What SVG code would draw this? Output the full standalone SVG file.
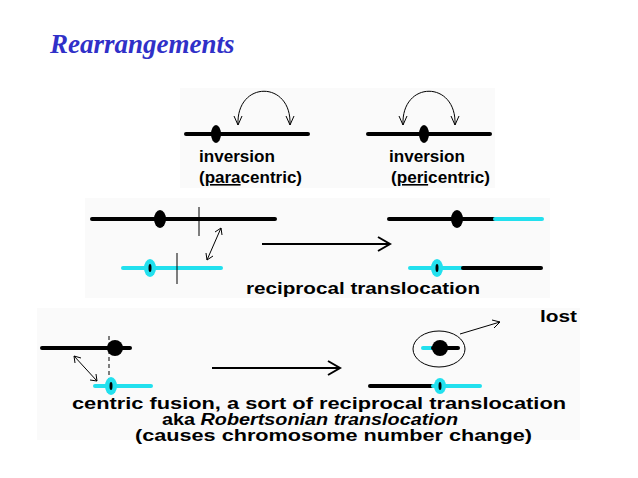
<svg xmlns="http://www.w3.org/2000/svg" width="638" height="478" viewBox="0 0 638 478">
<style>
.t{font-family:"Liberation Sans",Arial,sans-serif;font-weight:bold;font-size:16px;fill:#000}
.k{stroke:#000;stroke-width:4;stroke-linecap:round;fill:none}
.c{stroke:#22e0ee;stroke-width:4;stroke-linecap:round;fill:none}
.thin{stroke:#000;stroke-width:1;fill:none}
.big{stroke:#000;stroke-width:2;fill:none}
</style>
<rect width="638" height="478" fill="#fff"/>
<text x="50" y="53" font-family="Liberation Serif,serif" font-style="italic" font-weight="bold" font-size="27" fill="#3030c8">Rearrangements</text>
<g id="panel1">
<rect x="180" y="88" width="315" height="100" fill="#fafafa"/>
<line class="k" x1="186" y1="134" x2="308" y2="134"/>
<ellipse cx="216" cy="134" rx="5" ry="9"/>
<path class="thin" d="M238,125 C236,80 292,80 290,125 M234,116 L238,125 L242,116 M286,116 L290,125 L294,116"/>
<text class="t" x="199" y="162" textLength="76" lengthAdjust="spacingAndGlyphs">inversion</text>
<text class="t" x="199" y="183" textLength="103" lengthAdjust="spacingAndGlyphs">(<tspan text-decoration="underline">para</tspan>centric)</text>
<line class="k" x1="368" y1="134" x2="490" y2="134"/>
<ellipse cx="424" cy="134" rx="5" ry="9"/>
<path class="thin" d="M403,125 C401,80 457,80 455,125 M399,116 L403,125 L407,116 M451,116 L455,125 L459,116"/>
<text class="t" x="389" y="162" textLength="76" lengthAdjust="spacingAndGlyphs">inversion</text>
<text class="t" x="391" y="183" textLength="99" lengthAdjust="spacingAndGlyphs">(<tspan text-decoration="underline">peri</tspan>centric)</text>
</g>
<g id="panel2">
<rect x="85" y="198" width="465" height="100" fill="#fafafa"/>
<line class="k" x1="92" y1="219" x2="275" y2="219"/>
<ellipse cx="160" cy="219" rx="6" ry="9"/>
<line class="thin" x1="199" y1="207" x2="199" y2="236"/>
<line class="c" x1="123" y1="268" x2="221" y2="268"/>
<ellipse cx="150" cy="268" rx="6" ry="9" fill="#22e0ee"/>
<ellipse cx="150" cy="268" rx="1.5" ry="4"/>
<line class="thin" x1="177" y1="253" x2="177" y2="284"/>
<path class="thin" d="M221,228 L207,260 M215,232 L221,228 L222,235 M206,253 L207,260 L213,256"/>
<path class="big" d="M262,244 L390,244 M378,237 L390,244 L378,251"/>
<line class="k" x1="389" y1="219" x2="495" y2="219"/>
<line class="c" x1="495" y1="219" x2="542" y2="219"/>
<ellipse cx="457" cy="219" rx="6" ry="9"/>
<line class="c" x1="410" y1="268" x2="463" y2="268"/>
<line class="k" x1="463" y1="268" x2="541" y2="268"/>
<ellipse cx="437" cy="268" rx="6" ry="9" fill="#22e0ee"/>
<ellipse cx="437" cy="268" rx="1.5" ry="4"/>
<text class="t" x="246" y="294" font-size="18" textLength="234" lengthAdjust="spacingAndGlyphs">reciprocal translocation</text>
</g>
<g id="panel3">
<rect x="37" y="308" width="543" height="132" fill="#fafafa"/>
<line class="k" x1="42" y1="348" x2="130" y2="348"/>
<line class="thin" x1="109" y1="336" x2="109" y2="392" stroke-dasharray="4,3"/>
<circle cx="115" cy="348" r="8"/>
<line class="c" x1="95" y1="386" x2="151" y2="386"/>
<ellipse cx="111" cy="386" rx="6" ry="9" fill="#22e0ee"/>
<ellipse cx="111" cy="386" rx="1.5" ry="4"/>
<path class="thin" d="M74,356 L97,381 M75,363 L74,356 L81,358 M90,380 L97,381 L96,374"/>
<path class="big" d="M212,368 L340,368 M328,361 L340,368 L328,375"/>
<ellipse class="thin" cx="439" cy="349" rx="26" ry="18"/>
<line class="c" x1="423" y1="348" x2="433" y2="348"/>
<line class="k" x1="433" y1="348" x2="458" y2="348"/>
<circle cx="440" cy="348" r="8"/>
<path class="thin" d="M460,334 L500,322 M492,320 L500,322 L494,328"/>
<text class="t" x="540" y="322" textLength="37" lengthAdjust="spacingAndGlyphs">lost</text>
<line class="k" x1="370" y1="386" x2="433" y2="386"/>
<line class="c" x1="433" y1="386" x2="480" y2="386"/>
<ellipse cx="440" cy="386" rx="6" ry="8" fill="#22e0ee"/>
<ellipse cx="440" cy="386" rx="1.5" ry="4"/>
<text class="t" x="72" y="409" textLength="494" lengthAdjust="spacingAndGlyphs">centric fusion, a sort of reciprocal translocation</text>
<text class="t" x="162" y="425" textLength="296" lengthAdjust="spacingAndGlyphs">aka <tspan font-style="italic">Robertsonian translocation</tspan></text>
<text class="t" x="135" y="441" textLength="397" lengthAdjust="spacingAndGlyphs">(causes chromosome number change)</text>
</g>
</svg>
